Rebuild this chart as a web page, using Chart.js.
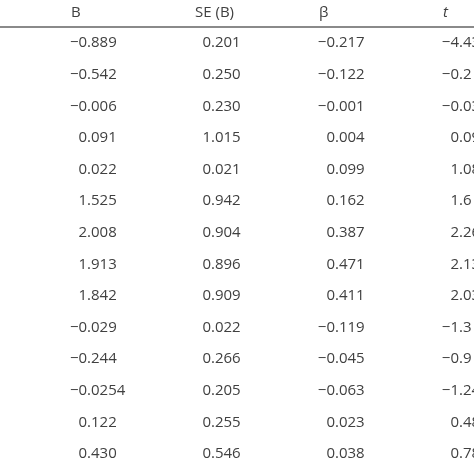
<!DOCTYPE html>
<html>
<head>
<meta charset="utf-8">
<script src="https://cdn.jsdelivr.net/npm/chart.js@4"></script>
<style>
  html, body { margin: 0; padding: 0; background: #fff; }
  #wrap { width: 474px; height: 474px; }
</style>
</head>
<body>
<div id="wrap"><canvas id="tbl"></canvas></div>
<script>
// ── Data ─────────────────────────────────────────────
const headers = ['B', 'SE (B)', 'β', 't'];
const colB    = ['−0.889', '−0.542', '−0.006', '0.091', '0.022', '1.525', '2.008', '1.913', '1.842', '−0.029', '−0.244', '−0.0254', '0.122', '0.430'];
const colSE   = ['0.201', '0.250', '0.230', '1.015', '0.021', '0.942', '0.904', '0.896', '0.909', '0.022', '0.266', '0.205', '0.255', '0.546'];
const colBeta = ['−0.217', '−0.122', '−0.001', '0.004', '0.099', '0.162', '0.387', '0.471', '0.411', '−0.119', '−0.045', '−0.063', '0.023', '0.038'];
const colT    = ['−4.43', '−0.2', '−0.03', '0.09', '1.08', '1.6', '2.26', '2.13', '2.03', '−1.3', '−0.9', '−1.24', '0.48', '0.78'];

const columns = [colB, colSE, colBeta, colT];

// one invisible point per cell; text is drawn at the point position
const cells = [];
columns.forEach((col, c) => col.forEach((txt, r) => cells.push({ x: c, y: r + 1, txt })));

const FONT = '15px "Open Sans", "Noto Sans", sans-serif';
const INK  = '#404040';

const tablePlugin = {
    id: 'tablePlugin',
    afterDatasetsDraw(chart) {
        const { ctx, scales: { x, y } } = chart;
        ctx.save();
        ctx.font = FONT;
        ctx.fillStyle = INK;
        ctx.textBaseline = 'middle';
        ctx.textAlign = 'left';

        // header row
        headers.forEach((h, c) => {
            ctx.font = h === 't' ? 'italic ' + FONT : FONT;
            ctx.fillText(h, x.getPixelForValue(c) - 16, y.getPixelForValue(0.03));
        });
        ctx.font = FONT;

        // rule under header
        ctx.strokeStyle = '#8a8a8a';
        ctx.lineWidth = 2;
        const ly = Math.round(y.getPixelForValue(0.49));
        ctx.beginPath();
        ctx.moveTo(0, ly);
        ctx.lineTo(chart.width, ly);
        ctx.stroke();

        // decimal-aligned values
        const meta = chart.getDatasetMeta(0);
        meta.data.forEach((pt, i) => {
            const txt = cells[i].txt;
            const intPart = txt.split('.')[0];
            const w = ctx.measureText(intPart).width;
            ctx.fillText(txt, pt.x - w, pt.y);
        });
        ctx.restore();
    }
};

new Chart(document.getElementById('tbl'), {
    type: 'scatter',
    data: { datasets: [{ data: cells, pointRadius: 0, pointHoverRadius: 0 }] },
    options: {
        responsive: true,
        maintainAspectRatio: false,
        animation: false,
        events: [],
        layout: { padding: 0 },
        plugins: { legend: { display: false }, tooltip: { enabled: false } },
        scales: {
            x: { type: 'linear', display: false, min: -0.702, max: 3.121 },
            y: { type: 'linear', display: false, reverse: true, min: -0.367, max: 14.633 }
        }
    },
    plugins: [tablePlugin]
});
</script>
</body>
</html>
